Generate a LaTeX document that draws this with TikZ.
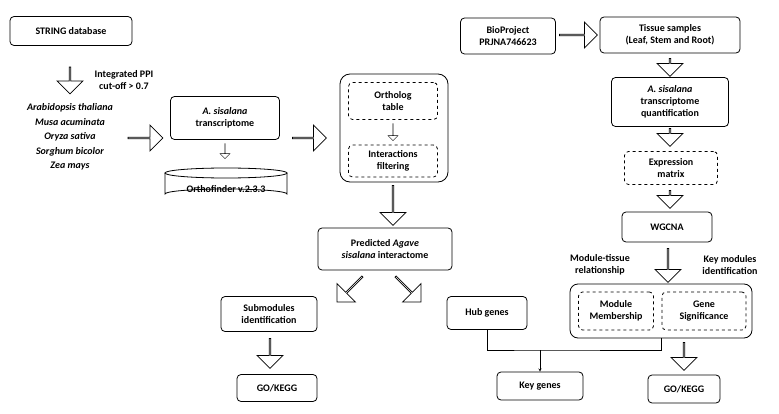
\documentclass[tikz,border=0pt]{standalone}
\usepackage{fontspec}
\setmainfont{Carlito}
\usetikzlibrary{shapes.arrows,shapes.geometric}
\begin{document}
\begin{tikzpicture}[x=1pt,y=-1pt,font=\fontsize{10}{12}\selectfont\bfseries,
 box/.style={draw,thick,rounded corners=4pt,align=center,inner sep=2pt,fill=white},
 dbox/.style={box,dashed},
 fa/.style={single arrow,draw,thick,fill=white,minimum width=26pt,single arrow head extend=6pt,single arrow tip angle=90,inner sep=0pt},
 sa/.style={single arrow,draw,fill=white,minimum width=14pt,single arrow head extend=4pt,inner sep=0pt},
 lbl/.style={align=center,inner sep=0pt}]
\useasboundingbox (0,0) rectangle (779,414);
% left column
\node[box,minimum width=122pt,minimum height=29pt] (string) at (71,31) {STRING database};
\node[fa,minimum height=27pt,shape border rotate=270] (a1) at (70,80) {};
\node[lbl] (ppi) at (124,80) {Integrated PPI\\cut-off > 0.7};
\node[lbl,font=\fontsize{10}{14.5}\selectfont\bfseries\itshape] (species) at (70,137) {Arabidopsis thaliana\\Musa acuminata\\Oryza sativa\\Sorghum bicolor\\Zea mays};
\node[fa,minimum height=35pt] (a2) at (145,138) {};
\node[box,minimum width=109pt,minimum height=43pt] (trans) at (225,118) {\textit{A. sisalana}\\transcriptome};
\node[sa,minimum height=15pt,shape border rotate=270,minimum width=10pt] (a3) at (225,151) {};
% cylinder
\draw[thick,fill=white] (165,173) -- (165,194) arc[start angle=180,end angle=360,x radius=61,y radius=5] -- (287,173);
\draw[thick,fill=white] (226,173) ellipse[x radius=61,y radius=5];
\node[lbl] (ortho) at (226,189) {Orthofinder v.2.3.3};
\node[fa,minimum height=34pt] (a4) at (309,138) {};
% middle group
\node[box,minimum width=108pt,minimum height=108pt,rounded corners=10pt] (group) at (394,128) {};
\node[dbox,minimum width=89pt,minimum height=37pt] (otab) at (393,101) {Ortholog\\table};
\node[sa,minimum height=17pt,shape border rotate=270,minimum width=10pt] (a5) at (393,132) {};
\node[dbox,minimum width=89pt,minimum height=32pt] (filt) at (393,161) {Interactions\\filtering};
\node[fa,minimum height=40pt,shape border rotate=270] (a6) at (393,205) {};
\node[box,minimum width=134pt,minimum height=42pt] (pred) at (385,249) {Predicted \textit{Agave}\\\textit{sisalana} interactome};
\node[fa,minimum height=36pt,rotate=225] (a7) at (350,289) {};
\node[fa,minimum height=36pt,rotate=315] (a8) at (408,289) {};
\node[box,minimum width=96pt,minimum height=35pt] (sub) at (269,314) {Submodules\\identification};
\node[fa,minimum height=30pt,shape border rotate=270] (a9) at (270,353) {};
\node[box,minimum width=80pt,minimum height=27pt] (go1) at (277,388) {GO/KEGG};
\node[box,minimum width=80pt,minimum height=33pt] (hub) at (487,313) {Hub genes};
\node[box,minimum width=86pt,minimum height=28pt] (key) at (540,386) {Key genes};
% right column
\node[box,minimum width=95pt,minimum height=36pt] (bio) at (508,36) {BioProject\\PRJNA746623};
\node[fa,minimum height=38pt] (a10) at (578,35) {};
\node[box,minimum width=140pt,minimum height=36pt] (tissue) at (670,35) {Tissue samples\\(Leaf, Stem and Root)};
\node[fa,minimum height=18pt,shape border rotate=270] (a11) at (670,67) {};
\node[box,minimum width=117pt,minimum height=49pt] (quant) at (670,102) {\textit{A. sisalana}\\transcriptome\\quantification};
\node[fa,minimum height=18pt,shape border rotate=270] (a12) at (670,137) {};
\node[dbox,minimum width=93pt,minimum height=33pt] (expr) at (671,168) {Expression\\matrix};
\node[fa,minimum height=18pt,shape border rotate=270] (a13) at (670,199) {};
\node[box,minimum width=90pt,minimum height=30pt] (wgcna) at (667,227) {WGCNA};
\node[fa,minimum height=34pt,shape border rotate=270] (a14) at (668,265) {};
\node[lbl] (mtr) at (600,265) {Module-tissue\\relationship};
\node[lbl] (kmi) at (730,265) {Key modules\\identification};
\node[box,minimum width=182pt,minimum height=54pt,rounded corners=8pt] (mgroup) at (661,311) {};
\node[dbox,minimum width=75pt,minimum height=38pt] (mm) at (616,311) {Module\\Membership};
\node[dbox,minimum width=84pt,minimum height=38pt] (gs) at (704,311) {Gene\\Significance};
\node[fa,minimum height=28pt,shape border rotate=270] (a15) at (684,356) {};
\node[box,minimum width=72pt,minimum height=28pt] (go2) at (684,389) {GO/KEGG};
% connectors
\coordinate (j) at (540,350);
\draw[thin] (hub.south) |- (j) -| (mgroup.south);
\draw[thin,-stealth] (j) -- (key.north);
\end{tikzpicture}
\end{document}
